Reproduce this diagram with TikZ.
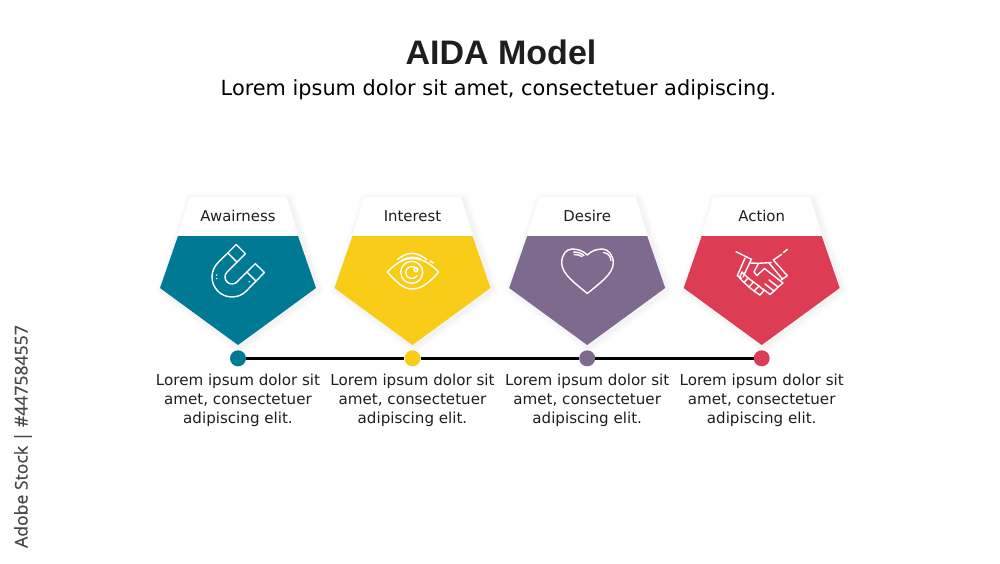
\documentclass[tikz,border=0pt]{standalone}
\usepackage{fontspec}
\setmainfont{DejaVu Sans}
\newfontfamily\titlefont{Liberation Sans}
\newfontfamily\creditfont[FakeBold=0.6]{Open Sans}
\definecolor{cteal}{HTML}{007A94}
\definecolor{cyellow}{HTML}{F8CC17}
\definecolor{cpurple}{HTML}{7F6A8F}
\definecolor{cred}{HTML}{DC3D55}
\definecolor{ink}{HTML}{1E1E1E}
\tikzset{
  titletext/.style={text=ink,font=\titlefont\bfseries\fontsize{34}{40}\selectfont,inner sep=0},
  subtext/.style={text=black,font=\fontsize{20.85}{24}\selectfont,inner sep=0},
  labeltext/.style={text=ink,font=\fontsize{14.9}{18}\selectfont,inner sep=0,anchor=base},
  bodytext/.style={text=ink,font=\fontsize{15.1}{19}\selectfont,align=center,inner sep=0},
  credittext/.style={text=black!72,font=\creditfont\fontsize{17.6}{20}\selectfont,inner sep=0,rotate=90},
  dotnode/.style={circle,inner sep=0,minimum size=16pt},
  linkline/.style={line width=3pt,black},
  icon/.style={white,line width=1.4pt,line join=round,line cap=round},
}
\begin{document}
\begin{tikzpicture}[x=1pt,y=-1pt]
\useasboundingbox (0,0) rectangle (1000,563);
\fill[white] (0,0) rectangle (1000,563);

\node[titletext] (title) at (501,52) {AIDA Model};
\node[subtext] (subtitle) at (498.5,90) {Lorem ipsum dolor sit amet, consectetuer adipiscing.};
\node[credittext] (credit) at (23,436.5) {Adobe Stock | \#447584557};

\foreach \n/\x/\c/\t in {1/238/cteal/Awairness,2/412.5/cyellow/Interest,3/587.2/cpurple/Desire,4/761.7/cred/Action}{
  % soft shadow
  \foreach \w in {2,4,...,12}{
    \draw[black,opacity=0.007,line width=\w pt,line join=round]
      (\x-48.5+2,199) -- (\x+48.5+2,199) -- (\x+78+2,290) -- (\x+2,347) -- (\x-78+2,290) -- cycle;
  }
  % white cap and coloured body
  \fill[white] (\x-48.5,197) -- (\x+48.5,197) -- (\x+60,236) -- (\x-60,236) -- cycle;
  \fill[\c] (\x-60,236) -- (\x+60,236) -- (\x+78,288) -- (\x,345) -- (\x-78,288) -- cycle;
  \node[labeltext] (label\n) at (\x,221.5) {\t};
  \node[dotnode,fill=\c] (dot\n) at (\x,358.3) {};
  \node[bodytext] (body\n) at (\x,400) {Lorem ipsum dolor sit\\amet, consectetuer\\adipiscing elit.};
}
\draw[linkline] (dot1) -- (dot2);
\draw[linkline] (dot2) -- (dot3);
\draw[linkline] (dot3) -- (dot4);

% magnet
\draw[icon] (236.24,244.5) -- (217.86,262.86) arc[start angle=225,end angle=45,radius=20]
  -- (264.4,272.5) -- (255.33,263.67) -- (236.95,281.95) arc[start angle=45,end angle=225,radius=7]
  -- (245.43,253.67) -- cycle;
\draw[icon] (227.76,252.96) -- (236.95,262.15);
\draw[icon] (246.85,271.95) -- (256.04,281.24);
\fill[white] (216.7,275) circle (0.8) (216.7,278.5) circle (0.8) (249.3,281.7) circle (0.8);

% eye
\draw[icon] (387.3,272) .. controls (397,262) and (404,258.5) .. (412.5,258.5)
  .. controls (421,258.5) and (429,262) .. (438.7,272)
  .. controls (429,283) and (421,289) .. (412.5,289)
  .. controls (404,289) and (397,283) .. (387.3,272) -- cycle;
\draw[icon] (411.7,272.3) circle (11);
\draw[icon] (417,269.5) arc[start angle=-30,end angle=-330,radius=6];
\draw[icon] (416,269.7) circle (2);
\draw[icon] (397.3,259.5) .. controls (403,255) and (408,253.3) .. (412,253.3) .. controls (417,253.3) and (422,256) .. (426.7,259.5);
\draw[icon] (402,260) .. controls (408,256.5) and (416,256.5) .. (421,259);
\draw[icon] (430,261) -- (433.3,263);

% heart
\draw[icon] (587.3,255) .. controls (583,250.5) and (577,249) .. (572,249)
  .. controls (566,249) and (561.7,255) .. (561.7,263)
  .. controls (561.7,274) and (576,284) .. (587.3,293.5)
  .. controls (598.6,284) and (613.3,274) .. (613.3,263)
  .. controls (613.3,255) and (608,249) .. (602.5,249)
  .. controls (597.5,249) and (591.5,250.5) .. (587.3,255) -- cycle;
\draw[icon] (573.5,252) .. controls (577,252) and (581,253) .. (584,255.5);
\draw[icon] (574,254.5) .. controls (577,254.5) and (579.5,255) .. (582,256.5);
\draw[icon] (603.5,252.5) .. controls (608,253) and (610.5,256) .. (611,260.5);

% handshake
\draw[icon] (736,251.7) -- (751.7,259.5);
\draw[icon] (745,258) -- (737.3,275.7) -- (741.5,278.5);
\draw[icon] (751,260) -- (743,277);
\draw[icon] (773.3,260) -- (781.7,254.3);
\draw[icon] (783.3,252.7) -- (787.3,249.3);
\draw[icon] (773.3,260) -- (787.3,275.7) -- (781,280);
\draw[icon] (769,263) -- (782,278.5);
\draw[icon] (750,263) -- (758.5,263.3) -- (771.5,262.5);
\draw[icon] (758.5,263.3) -- (754,272) -- (757,275.5) -- (764.5,268.5) -- (783,283) -- (778,287) -- (769,280);
\draw[icon] (778,287) -- (774,291) -- (765,284);
\draw[icon] (774,291) -- (770,294.5) -- (763,289);
\draw[icon] (742,272) -- (739.5,278) -- (744,282.5) -- (748,278) -- cycle;
\draw[icon] (744,282.5) -- (749,287) -- (753.5,282) -- (748,278);
\draw[icon] (749,287) -- (754,291) -- (759,286) -- (753.5,282);
\draw[icon] (754,291) -- (760,295) -- (764,290.5) -- (759,286);

\end{tikzpicture}
\end{document}
